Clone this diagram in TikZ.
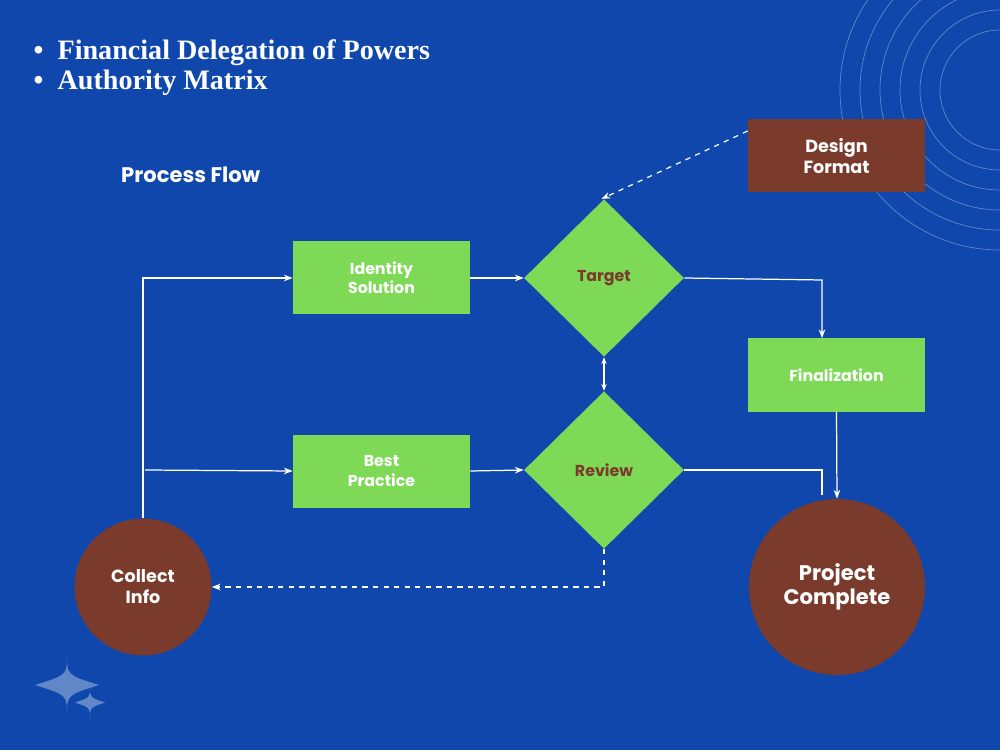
\documentclass[tikz,border=0pt]{standalone}
\usepackage{fontspec}
\setmainfont{Liberation Serif}
\newfontfamily\pop{Poppins}
\usetikzlibrary{shapes.geometric,arrows.meta}
\definecolor{bgblue}{RGB}{15,71,172}
\definecolor{leaf}{RGB}{126,217,87}
\definecolor{rust}{RGB}{122,58,44}
\tikzset{
   box/.style = {rectangle, fill=leaf, minimum width=3.54cm, minimum height=1.46cm,
                 text=white, font=\pop\bfseries\small, align=center, inner sep=1pt},
   brownbox/.style = {box, fill=rust, font=\pop\bfseries\large, text=white},
   choice/.style = {diamond, fill=leaf, minimum width=3.2cm, minimum height=3.15cm,
                 text=rust, font=\pop\bfseries\small, inner sep=0pt},
   blob/.style = {circle, fill=rust, text=white, font=\pop\bfseries, align=center, inner sep=0pt},
   flow/.style = {white, line width=0.7pt, -{Stealth[length=5pt]}},
   dashflow/.style = {flow, dashed}
}
\begin{document}
\begin{tikzpicture}
   \fill[bgblue] (0,0) rectangle (20,15);
   \useasboundingbox (0,0) rectangle (20,15);
   % decorations
   \foreach \r in {1.2,1.6,...,3.6}
      \draw[white, opacity=0.35, line width=0.4pt] (20,13.2) ++(180:\r) arc (180:90:\r);
   \foreach \r in {1.2,1.6,...,3.6}
      \draw[white, opacity=0.35, line width=0.4pt] (20,13.2) ++(180:\r) arc (180:270:\r);
   \fill[white, opacity=0.35] (1.34,1.9) .. controls (1.34,1.5) .. (0.7,1.3)
      .. controls (1.34,1.1) .. (1.34,0.7) .. controls (1.34,1.1) .. (1.98,1.3)
      .. controls (1.34,1.5) .. cycle;
   \fill[white, opacity=0.35] (1.8,1.25) .. controls (1.8,1.05) .. (1.5,0.95)
      .. controls (1.8,0.85) .. (1.8,0.6) .. controls (1.8,0.85) .. (2.1,0.95)
      .. controls (1.8,1.05) .. cycle;
   % titles
   \node[white, font=\bfseries\fontsize{16}{18}\selectfont, anchor=west, align=left] (head) at (0.55,13.65)
      {\textbullet\ \ Financial Delegation of Powers\\[-1pt]\textbullet\ \ Authority Matrix};
   \node[white, font=\pop\bfseries\large, anchor=west] (flowtitle) at (2.3,11.5) {Process Flow};
   % nodes
   \node[brownbox, font=\pop\bfseries\normalsize] (design) at (16.73,11.88) {Design\\Format};
   \node[box] (ident) at (7.63,9.44) {Identity\\Solution};
   \node[box] (best) at (7.63,5.58) {Best\\Practice};
   \node[choice] (target) at (12.08,9.44) {Target};
   \node[choice] (review) at (12.08,5.6) {Review};
   \node[box] (final) at (16.73,7.5) {Finalization};
   \node[blob, minimum size=2.74cm] (collect) at (2.86,3.26) {Collect\\Info};
   \node[blob, minimum size=3.52cm, font=\pop\bfseries\large] (project) at (16.74,3.26) {Project\\Complete};
   \coordinate (split) at (2.9,9.4);
   \coordinate (lowsplit) at (2.9,5.6);
   \coordinate (bend) at (16.44,9.4);
   \coordinate (revend) at (16.44,5.6);
   % connectors
   \draw[flow] (collect.north) |- (ident.west);
   \draw[flow] (lowsplit) -- (best.west);
   \draw[flow] (ident.east) -- (target.west);
   \draw[flow] (best.east) -- (review.west);
   \draw[flow] (target.east) -- (bend) -- (final.north -| bend);
   \draw[flow] (final.south) -- (project.north);
   \draw[white, line width=0.7pt] (review.east) -- (revend) -- ++(0,-0.5);
   \draw[white, line width=0.7pt, {Stealth[length=4pt]}-{Stealth[length=4pt]}] (target.south) -- (review.north);
   \draw[dashflow] (design.west) ++(0,0.5) -- ([xshift=-0.05cm]target.north);
   \draw[dashflow] (review.south) |- (collect.east);
\end{tikzpicture}
\end{document}
